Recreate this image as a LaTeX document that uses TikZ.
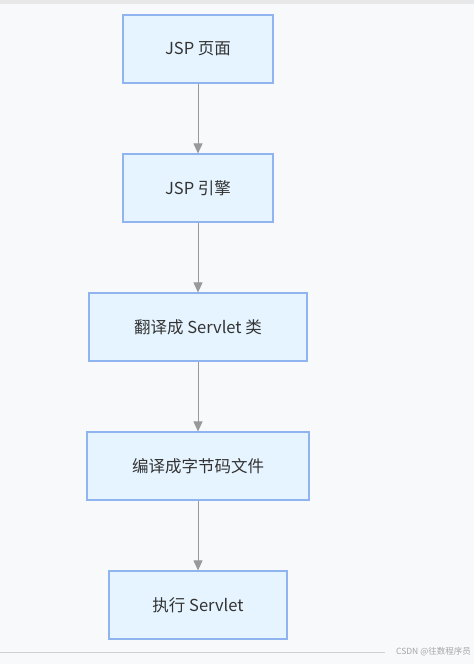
\documentclass[tikz,border=0pt]{standalone}
\usepackage{fontspec}
\setmainfont{Noto Sans CJK SC}
\usetikzlibrary{arrows.meta}
\definecolor{bgc}{HTML}{F8F9FA}
\definecolor{boxfill}{HTML}{E6F4FF}
\definecolor{boxdraw}{HTML}{8FB4F0}
\definecolor{txt}{HTML}{333333}
\definecolor{arr}{HTML}{999999}
\tikzset{
  flowbox/.style={draw=boxdraw, line width=1.2pt, fill=boxfill, minimum height=68pt,
    inner sep=0pt, font=\fontsize{16.5}{19}\selectfont, text=txt},
  flowarrow/.style={draw=arr, line width=1pt, -{Triangle[length=10pt,width=9pt,fill=arr]}}
}
\begin{document}
\begin{tikzpicture}[x=1pt,y=-1pt]
\useasboundingbox (0,0) rectangle (474,664);
\fill[bgc] (0,0) rectangle (474,664);
\fill[gray!18] (0,0) rectangle (474,4);
\draw[gray!35, line width=1pt] (0,652) -- (385,652);
\node[flowbox, minimum width=150pt] (a) at (198,49) {JSP 页面};
\node[flowbox, minimum width=150pt] (b) at (198,188) {JSP 引擎};
\node[flowbox, minimum width=218pt] (c) at (198,327) {翻译成 Servlet 类};
\node[flowbox, minimum width=222pt] (d) at (198,466) {编译成字节码文件};
\node[flowbox, minimum width=178pt] (e) at (198,605) {执行 Servlet};
\draw[flowarrow] (a) -- (b);
\draw[flowarrow] (b) -- (c);
\draw[flowarrow] (c) -- (d);
\draw[flowarrow] (d) -- (e);
\node[anchor=east, text=gray!70, font=\fontsize{8.5}{9}\selectfont, inner sep=0pt] (wm) at (471,652) {CSDN @往数程序员};
\end{tikzpicture}
\end{document}
